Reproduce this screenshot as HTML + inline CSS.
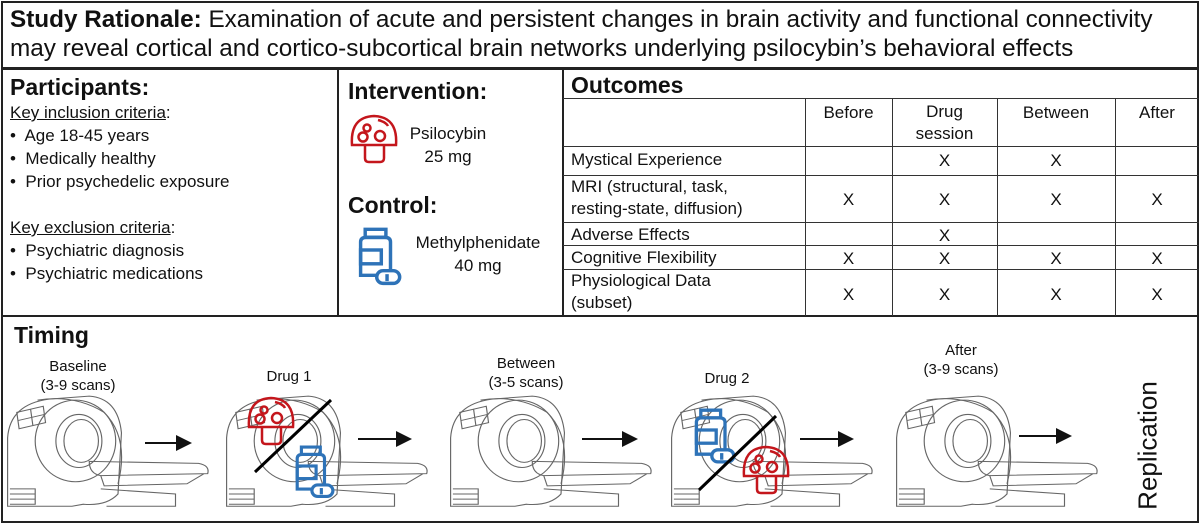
<!DOCTYPE html>
<html><head><meta charset="utf-8"><style>
body{margin:0;width:1200px;height:523px;background:#fff;position:relative;overflow:hidden;font-family:"Liberation Sans",Arial,sans-serif;color:#111}
.a{position:absolute}
.box{position:absolute;border:2px solid #222;box-sizing:border-box}
.h{font-weight:bold;font-size:23px}
.t{font-size:17px;line-height:23px}
.c{text-align:center}
.hl{position:absolute;height:1px;background:#333}
.vl{position:absolute;width:1px;background:#333}
.lb{font-size:15px;line-height:19px}
</style></head><body>
<div class="box" style="left:1px;top:1px;width:1198px;height:68px"></div>
<div class="a" style="left:10px;top:5px;font-size:24.3px;line-height:29px;width:1190px;white-space:nowrap"><b>Study Rationale:</b> Examination of acute and persistent changes in brain activity and functional connectivity<br>may reveal cortical and cortico-subcortical brain networks underlying psilocybin’s behavioral effects</div>

<div class="box" style="left:1px;top:68px;width:338px;height:249px"></div>
<div class="box" style="left:337px;top:68px;width:227px;height:249px"></div>
<div class="box" style="left:562px;top:68px;width:637px;height:249px"></div>
<div class="box" style="left:1px;top:315px;width:1198px;height:208px"></div>

<div class="a h" style="left:10px;top:74px">Participants:</div>
<div class="a t" style="left:10px;top:101px"><u>Key inclusion criteria</u>:<br>•&nbsp; Age 18-45 years<br>•&nbsp; Medically healthy<br>•&nbsp; Prior psychedelic exposure<br><br><u>Key exclusion criteria</u>:<br>•&nbsp; Psychiatric diagnosis<br>•&nbsp; Psychiatric medications</div>

<div class="a h" style="left:348px;top:78px">Intervention:</div>
<div class="a t c" style="left:398px;top:122px;width:100px">Psilocybin<br>25 mg</div>
<div class="a h" style="left:348px;top:192px">Control:</div>
<div class="a t c" style="left:403px;top:231px;width:150px">Methylphenidate<br>40 mg</div>

<div class="a h" style="left:571px;top:72px">Outcomes</div>
<div class="hl" style="left:563px;top:98px;width:636px"></div>
<div class="hl" style="left:563px;top:146px;width:636px"></div>
<div class="hl" style="left:563px;top:175px;width:636px"></div>
<div class="hl" style="left:563px;top:222px;width:636px"></div>
<div class="hl" style="left:563px;top:245px;width:636px"></div>
<div class="hl" style="left:563px;top:269px;width:636px"></div>
<div class="vl" style="left:805px;top:99px;height:217px"></div>
<div class="vl" style="left:892px;top:99px;height:217px"></div>
<div class="vl" style="left:997px;top:99px;height:217px"></div>
<div class="vl" style="left:1115px;top:99px;height:217px"></div>

<div class="a t c" style="left:805px;top:101px;width:87px">Before</div>
<div class="a c" style="left:892px;top:101px;width:105px;font-size:17px;line-height:22px">Drug<br>session</div>
<div class="a t c" style="left:997px;top:101px;width:118px">Between</div>
<div class="a t c" style="left:1115px;top:101px;width:84px">After</div>

<div class="a t" style="left:571px;top:148px">Mystical Experience</div>
<div class="a" style="left:571px;top:176px;font-size:17px;line-height:22px">MRI (structural, task,<br>resting-state, diffusion)</div>
<div class="a t" style="left:571px;top:223px">Adverse Effects</div>
<div class="a t" style="left:571px;top:246px">Cognitive Flexibility</div>
<div class="a" style="left:571px;top:270px;font-size:17px;line-height:22px">Physiological Data<br>(subset)</div>

<div class="a t c" style="left:892px;top:149px;width:105px">X</div>
<div class="a t c" style="left:997px;top:149px;width:118px">X</div>
<div class="a t c" style="left:805px;top:188px;width:87px">X</div>
<div class="a t c" style="left:892px;top:188px;width:105px">X</div>
<div class="a t c" style="left:997px;top:188px;width:118px">X</div>
<div class="a t c" style="left:1115px;top:188px;width:84px">X</div>
<div class="a t c" style="left:892px;top:224px;width:105px">X</div>
<div class="a t c" style="left:805px;top:247px;width:87px">X</div>
<div class="a t c" style="left:892px;top:247px;width:105px">X</div>
<div class="a t c" style="left:997px;top:247px;width:118px">X</div>
<div class="a t c" style="left:1115px;top:247px;width:84px">X</div>
<div class="a t c" style="left:805px;top:283px;width:87px">X</div>
<div class="a t c" style="left:892px;top:283px;width:105px">X</div>
<div class="a t c" style="left:997px;top:283px;width:118px">X</div>
<div class="a t c" style="left:1115px;top:283px;width:84px">X</div>

<div class="a h" style="left:14px;top:322px">Timing</div>
<div class="a c lb" style="left:18px;top:357px;width:120px">Baseline<br>(3-9 scans)</div>
<div class="a c lb" style="left:229px;top:367px;width:120px">Drug 1</div>
<div class="a c lb" style="left:466px;top:354px;width:120px">Between<br>(3-5 scans)</div>
<div class="a c lb" style="left:667px;top:369px;width:120px">Drug 2</div>
<div class="a c lb" style="left:901px;top:341px;width:120px">After<br>(3-9 scans)</div>
<div class="a" style="left:1078px;top:430px;font-size:26px;transform:rotate(-90deg);transform-origin:center;width:140px;text-align:center">Replication</div>

<svg class="a" style="left:0;top:0" width="1200" height="523">
<defs>
<symbol id="sc" overflow="visible">
<g fill="none" stroke="#666" stroke-width="1">
<path d="M4,112 L4,45 Q6,12 40,7 L75,4 Q100,6 103,40 L100,100 Q90,112 70,110 L60,112 Z"/>
<path d="M30,8 Q62,2 88,20 Q110,45 100,90"/>
<ellipse cx="63" cy="48" rx="35" ry="40"/>
<ellipse cx="66" cy="48" rx="20" ry="26"/>
<ellipse cx="68" cy="48" rx="15" ry="21"/>
<path d="M12,20 L35,14 L37,30 L14,36 Z M24,17 L26,33 M13,28 L36,22"/>
<path d="M75,68 L170,70 Q180,72 178,80 L85,82 Q75,80 75,68 Z M85,82 L88,92 L160,90 L175,80"/>
<path d="M85,95 L150,100 L150,112 L90,112"/>
<path d="M6,95 L28,95 L28,110 L6,110 M6,100 L28,100 M6,105 L28,105"/>
</g>
</symbol>
<symbol id="mu" overflow="visible">
<g fill="none" stroke="#c4161c" stroke-width="2.5">
<path d="M2,30 Q0,2 24,1 Q48,2 46,30 Z"/>
<circle cx="17" cy="13" r="3.5"/><circle cx="13" cy="22" r="4.5"/><circle cx="30" cy="21" r="5"/><path d="M28,5 Q36,7 38,11"/>
<path d="M15,30 L15,43 Q15,47 19,47 L30,47 Q34,47 34,43 L34,30"/>
</g>
</symbol>
<symbol id="bo" overflow="visible">
<g fill="none" stroke="#2e73b8" stroke-width="3">
<path d="M8,2 L26,2 L26,9 L8,9 Z"/>
<path d="M4,13 Q4,9 9,9 L25,9 Q30,9 30,13 L30,42 L4,42 Z"/>
<rect x="4" y="20" width="18" height="12" fill="none"/>
<rect x="18" y="38" width="20" height="11" rx="5.5" fill="#fff"/>
<path d="M27,41 L27,47"/>
</g>
</symbol>
<marker id="ar" markerWidth="8" markerHeight="8" refX="7" refY="4" orient="auto"><path d="M0,0 L8,4 L0,8 Z" fill="#111"/></marker>
</defs>
<use href="#mu" x="350" y="115"/>
<use href="#bo" transform="translate(356,227) scale(1.15)"/>

<use href="#sc" transform="translate(3,392) scale(1.15,1.02)"/>
<use href="#sc" transform="translate(222,392) scale(1.15,1.02)"/>
<use href="#sc" transform="translate(446,392) scale(1.15,1.02)"/>
<use href="#sc" transform="translate(667,392) scale(1.15,1.02)"/>
<use href="#sc" transform="translate(892,392) scale(1.15,1.02)"/>

<use href="#mu" x="247" y="397"/>
<line x1="255" y1="472" x2="331" y2="400" stroke="#000" stroke-width="3"/>
<use href="#bo" transform="translate(293,445) scale(1.05)"/>

<use href="#bo" transform="translate(692,408) scale(1.1)"/>
<line x1="699" y1="490" x2="776" y2="416" stroke="#000" stroke-width="3"/>
<use href="#mu" x="742" y="446"/>

<g stroke="#111" stroke-width="2" marker-end="url(#ar)">
<line x1="145" y1="443" x2="190" y2="443"/>
<line x1="358" y1="439" x2="410" y2="439"/>
<line x1="582" y1="439" x2="636" y2="439"/>
<line x1="800" y1="439" x2="852" y2="439"/>
<line x1="1019" y1="436" x2="1070" y2="436"/>
</g>
</svg>
</body></html>
